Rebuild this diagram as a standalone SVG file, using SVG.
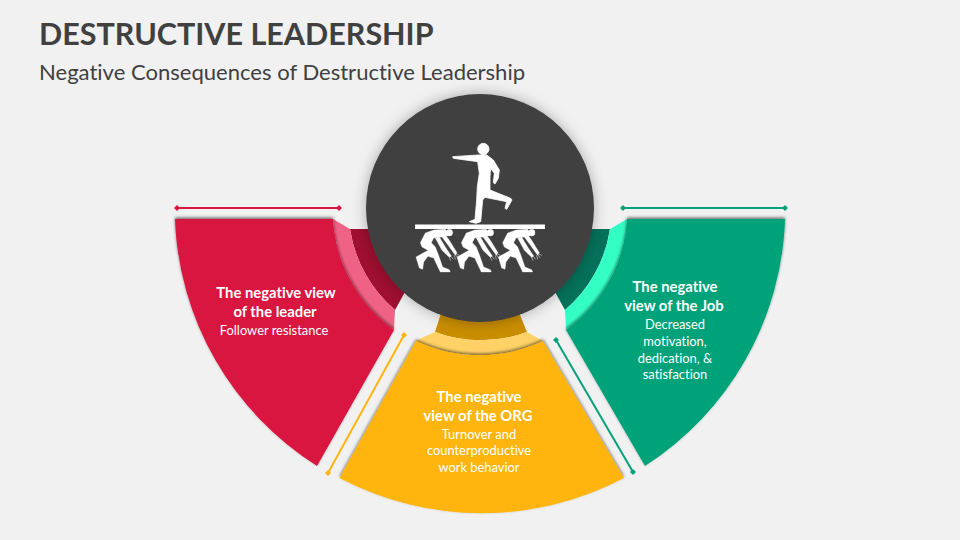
<svg xmlns="http://www.w3.org/2000/svg" xmlns:xlink="http://www.w3.org/1999/xlink" width="960" height="540" viewBox="0 0 960 540">
<style>
text{font-variant-ligatures:none}
.t{font-family:Lato,"Open Sans","Liberation Sans",sans-serif;fill:#404040}
.h{font-family:Lato,"Open Sans","Liberation Sans",sans-serif;font-weight:700;font-size:14.8px;fill:#fff;text-anchor:middle}
.b{font-family:Lato,"Open Sans","Liberation Sans",sans-serif;font-size:12.9px;fill:#fff;text-anchor:middle}
.ic{fill:#fff;stroke:#fff;stroke-width:2.500;stroke-linejoin:round}
.ln{stroke-width:2;fill:none}
</style>
<defs>
<filter id="sh" x="-15%" y="-15%" width="130%" height="130%"><feDropShadow dx="0" dy="-1.500" stdDeviation="1.800" flood-color="#000" flood-opacity=".55"/></filter>
<filter id="cs" x="-20%" y="-20%" width="140%" height="140%"><feDropShadow dx="0" dy="0" stdDeviation="7" flood-color="#000" flood-opacity=".3"/></filter>
<marker id="mr" markerWidth="6" markerHeight="6" refX="3" refY="3" markerUnits="userSpaceOnUse"><path d="M3 0L6 3L3 6L0 3Z" fill="#D9163F"/></marker>
<marker id="mg" markerWidth="6" markerHeight="6" refX="3" refY="3" markerUnits="userSpaceOnUse"><path d="M3 0L6 3L3 6L0 3Z" fill="#05A279"/></marker>
<marker id="my" markerWidth="6" markerHeight="6" refX="3" refY="3" markerUnits="userSpaceOnUse"><path d="M3 0L6 3L3 6L0 3Z" fill="#FFB50D"/></marker>
<g id="crew" stroke-width="1">
<circle cx="112" cy="32" r="10"/>
<path d="M25 62L40 33L65 24L100 22L110 40L90 45L65 48L58 62L70 75L78 95L92 135L112 143L115 150L85 150L65 108L48 103L35 120L32 142L22 138L12 105L48 85L30 75Z"/>
<path d="M98 35L112 55L135 92L130 100L105 65L90 45Z"/>
<path d="M70 48L82 45L100 75L118 102L112 106L90 85Z"/>
<path d="M130 98L138 108M127 100L130 112M133 96L142 100M112 104L116 116M116 102L124 112" stroke-width="1.500" fill="none"/>
</g>
</defs>
<rect width="960" height="540" fill="#F1F1F1"/>
<text class="t" x="39" y="45" font-size="30.5" font-weight="700">DESTRUCTIVE LEADERSHIP</text>
<text class="t" x="39" y="80" font-size="22.05">Negative Consequences of Destructive Leadership</text>

<g id="connectors">
<path class="ln" stroke="#D9163F" d="M177 208H339" marker-start="url(#mr)" marker-end="url(#mr)"/>
<path class="ln" stroke="#05A279" d="M623 208H785" marker-start="url(#mg)" marker-end="url(#mg)"/>
<path class="ln" stroke="#FFB50D" d="M328 473L404 335" marker-start="url(#my)" marker-end="url(#my)"/>
<path class="ln" stroke="#05A279" d="M556 340L633 472" marker-start="url(#mg)" marker-end="url(#mg)"/>
</g>

<g id="node-leader">
<path fill="#A00F30" d="M350 229H400L405 292L395 310A132 132 0 0 1 350 229Z"/>
<path fill="#F06285" d="M333 219L350 229A132 132 0 0 0 395 310L394 330A148 148 0 0 1 333 219Z"/>
<path fill="#D9163F" filter="url(#sh)" d="M175 219H333A148 148 0 0 0 394 330L317 466A305 305 0 0 1 175 219Z"/>
<text class="h" x="276" y="298">The negative view</text>
<text class="h" x="275" y="317">of the leader</text>
<text class="b" x="274" y="335">Follower resistance</text>
</g>

<g id="node-org">
<path fill="#C98D00" d="M435 332L442 310H518L527 332A132 132 0 0 1 435 332Z"/>
<path fill="#FFD166" d="M417 340L435 332A132 132 0 0 0 527 332L543 341A148 148 0 0 1 416 341Z"/>
<path fill="#FFB50D" filter="url(#sh)" d="M416 341A148 148 0 0 0 543 341L624 478A305 305 0 0 1 339.5 478Z"/>
<text class="h" x="479" y="402">The negative</text>
<text class="h" x="478" y="421">view of the ORG</text>
<text class="b" x="479" y="439">Turnover and</text>
<text class="b" x="479" y="455">counterproductive</text>
<text class="b" x="479" y="472">work behavior</text>
</g>

<g id="node-job">
<path fill="#05715A" d="M610 229H560L555 292L565 310A132 132 0 0 0 610 229Z"/>
<path fill="#33FFC4" d="M627 219L610 229A132 132 0 0 1 565 310L566 330A148 148 0 0 0 627 219Z"/>
<path fill="#05A279" filter="url(#sh)" d="M785 219H627A148 148 0 0 1 566 330L645 466A305 305 0 0 0 785 219Z"/>
<text class="h" x="675" y="292">The negative</text>
<text class="h" x="674" y="311">view of the Job</text>
<text class="b" x="675" y="329">Decreased</text>
<text class="b" x="675" y="346">motivation,</text>
<text class="b" x="675" y="363">dedication, &amp;</text>
<text class="b" x="675" y="379">satisfaction</text>
</g>

<g id="node-center">
<circle cx="480" cy="208" r="114" fill="#404040" filter="url(#cs)"/>
<g class="ic">
<g transform="translate(450 140) scale(.33333)">
<circle cx="100" cy="27" r="17"/>
<path d="M8 50L85 45L110 45L130 60L148 90L145 115L135 132L130 128L133 100L122 85L120 110L120 150L182 175L186 180L170 208L165 205L170 185L105 172L98 180L92 245L78 250L58 245L75 238L80 180L82 140L88 100L83 65L10 55Z"/>
</g>
<rect x="415" y="224.500" width="130" height="4.500" stroke="none"/>
<g transform="translate(412 222) scale(.33333)">
<use xlink:href="#crew"/>
<use xlink:href="#crew" x="123"/>
<use xlink:href="#crew" x="247"/>
</g>
</g>
</g>
</svg>
